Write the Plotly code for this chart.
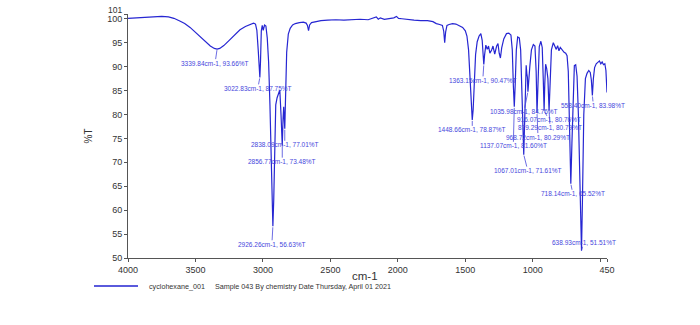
import plotly.graph_objects as go

# ---- spectrum data (wavenumber cm-1, %T) ----
wavenumber = [4000, 3950, 3900, 3850, 3800, 3750, 3700, 3660, 3620, 3580, 3540, 3500, 3460, 3420, 3390,
              3360, 3339.84, 3320, 3290, 3250, 3210, 3170, 3130, 3100, 3070, 3055, 3045, 3035, 3028,
              3022.83, 3018, 3012, 3005, 2998, 2988, 2978, 2968, 2958, 2948, 2938, 2930, 2926.26, 2920,
              2914, 2905, 2895, 2885, 2875, 2866, 2856.77, 2851, 2846, 2838.09, 2832, 2824, 2812, 2798,
              2780, 2760, 2730, 2700, 2680, 2670, 2662, 2654, 2640, 2610, 2570, 2520, 2460, 2400, 2340,
              2280, 2220, 2180, 2160, 2145, 2130, 2100, 2060, 2030, 2010, 1995, 1970, 1930, 1880, 1830,
              1780, 1740, 1715, 1690, 1670, 1660, 1653, 1646, 1636, 1620, 1595, 1570, 1545, 1520, 1500,
              1488, 1476, 1466, 1457, 1448.66, 1442, 1434, 1424, 1412, 1398, 1385, 1375, 1368, 1363.15,
              1357, 1348, 1338, 1328, 1318, 1306, 1295, 1282, 1268, 1258, 1249, 1240, 1230, 1215, 1195,
              1178, 1162, 1152, 1144, 1137.07, 1130, 1122, 1112, 1100, 1090, 1080, 1072, 1067.01, 1061,
              1055, 1049, 1044, 1040, 1035.98, 1030, 1022, 1010, 996, 984, 975, 968.72, 962, 952, 940,
              930, 922, 916.07, 911, 905, 897, 888, 879.29, 872, 862, 848, 836, 826, 816, 806, 796, 782,
              768, 756, 746, 737, 728, 718.14, 710, 701, 692, 682, 672, 662, 652, 645, 638.93, 632, 622,
              610, 598, 585, 574, 566, 558.40, 551, 542, 530, 518, 506, 496, 486, 476, 466, 458, 450]
transmittance = [100.1, 100.2, 100.3, 100.4, 100.4, 100.5, 100.4, 100.1, 99.6, 99.0, 98.2, 97.2, 96.1, 95.0, 94.3,
                 93.8, 93.66, 93.8, 94.4, 95.5, 96.7, 97.7, 98.4, 98.8, 99.1, 98.9, 97.6, 93.5, 89.5,
                 87.75, 91.0, 97.5, 98.6, 97.6, 98.7, 98.5, 96.0, 91.0, 82.0, 68.0, 59.0, 56.63, 62.0,
                 74.0, 82.0, 83.5, 84.3, 85.1, 80.0, 73.48, 79.0, 81.6, 77.01, 84.0, 93.0, 96.8, 98.0,
                 98.7, 99.0, 99.2, 99.3, 99.1, 98.6, 97.5, 98.7, 99.2, 99.4, 99.6, 99.7, 99.8, 99.7, 99.8,
                 99.9, 99.8, 100.1, 100.4, 99.9, 100.2, 99.9, 100.0, 100.2, 100.5, 100.1, 100.0, 99.8, 99.7, 99.6,
                 99.6, 99.4, 99.0, 98.8, 98.6, 97.4, 95.0, 97.2, 98.6, 98.8, 99.0, 98.9, 98.6, 98.2, 97.5,
                 96.4, 93.5, 88.0, 82.0, 78.87, 81.0, 87.0, 92.5, 95.2, 96.4, 96.9, 95.5, 92.5, 90.47,
                 92.5, 94.5, 93.6, 94.3, 92.8, 93.4, 94.3, 92.6, 94.3, 94.8, 92.8, 91.8, 94.0, 95.8, 96.9,
                 97.0, 96.6, 93.5, 86.0, 81.60, 86.5, 93.5, 96.2, 96.0, 93.5, 86.0, 76.5, 71.61, 79.0,
                 88.0, 90.3, 88.5, 87.8, 84.76, 87.5, 90.0, 93.5, 94.6, 94.3, 89.0, 80.29, 87.5, 94.2, 95.3,
                 94.0, 87.0, 80.76, 86.5, 90.5, 89.6, 87.5, 80.79, 87.0, 93.5, 95.0, 94.3, 93.6, 94.4, 93.3, 94.0, 93.4,
                 93.0, 92.8, 92.3, 89.0, 78.0, 65.52, 74.0, 85.0, 90.2, 90.4, 88.0, 80.0, 66.0, 57.0, 51.51, 62.0, 80.0,
                 87.5, 88.6, 89.2, 88.8, 87.2, 83.98, 87.5, 89.8, 90.6, 91.0, 91.2, 90.6, 91.0, 90.4, 90.6, 89.2, 84.6]

# ---- labelled peaks ----
peak_wn = [3339.84, 3022.83, 2926.26, 2856.77, 2838.09, 1448.66, 1363.15, 1137.07,
           1067.01, 1035.98, 968.72, 916.07, 879.29, 718.14, 638.93, 558.40]
peak_T = [93.66, 87.75, 56.63, 73.48, 77.01, 78.87, 90.47, 81.60,
          71.61, 84.76, 80.29, 80.76, 80.79, 65.52, 51.51, 83.98]

# label offsets (pixels) relative to each peak
label_dx = [-2, -2, -1, 0, 0, 0, -1, -1, 4, -4, 1, 5, 1, 2, 2, 1]
label_dy = [14, 11, 18, 16, 16, 10, 16, 39, 16, 20, 24, 9, 17, 10, -8, 10]

x_ticks = [4000, 3500, 3000, 2500, 2000, 1500, 1000, 500, 450]
x_ticktext = ["4000", "3500", "3000", "2500", "2000", "1500", "1000", "", "450"]
y_ticks = [50, 55, 60, 65, 70, 75, 80, 85, 90, 95, 100, 101]
y_ticktext = ["50", "55", "60", "65", "70", "75", "80", "85", "90", "95", "100", ""]

series_name = "cyclohexane_001"
sample_info = "Sample 043 By chemistry Date Thursday, April 01 2021"

FONT = "Liberation Sans, Arial, sans-serif"
CURVE = "#2626d2"
LABEL = "#4646dc"
AXIS = "#555555"

L, R, T_, B = 128, 93, 14, 67
W, H = 700, 325
pw, ph = W - L - R, H - T_ - B


def px_to_paper(px, py):
    return (px - L) / pw, (H - B - py) / ph


fig = go.Figure()
fig.add_trace(go.Scatter(x=wavenumber, y=transmittance, mode="lines",
                         line=dict(color=CURVE, width=1.2), name=series_name,
                         showlegend=False))

annotations = []
for wn, t, dx, dy in zip(peak_wn, peak_T, label_dx, label_dy):
    annotations.append(dict(
        x=wn, y=t, xref="x", yref="y",
        text=f"{wn:.2f}cm-1, {t:.2f}%T",
        showarrow=True, arrowhead=0, arrowwidth=0.8, arrowcolor=LABEL,
        ax=dx, ay=dy, standoff=1, borderpad=0,
        font=dict(family=FONT, size=6.5, color=LABEL)))

# top tick label "101"
annotations.append(dict(x=0, y=101, xref="paper", yref="y", text="101",
                        showarrow=False, xanchor="right", yanchor="middle",
                        xshift=-4, yshift=4.5,
                        font=dict(family=FONT, size=8.5, color="#333333")))

lx, ly = px_to_paper(147, 286)
annotations.append(dict(x=lx, y=ly, xref="paper", yref="paper", text=series_name,
                        showarrow=False, xanchor="left", yanchor="middle",
                        font=dict(family=FONT, size=7.2, color="#333333")))
sx, sy = px_to_paper(213, 286)
annotations.append(dict(x=sx, y=sy, xref="paper", yref="paper", text=sample_info,
                        showarrow=False, xanchor="left", yanchor="middle",
                        font=dict(family=FONT, size=7.2, color="#333333")))
cx, cy = px_to_paper(365, 276)
annotations.append(dict(x=cx, y=cy, xref="paper", yref="paper", text="cm-1",
                        showarrow=False, xanchor="center", yanchor="middle",
                        font=dict(family=FONT, size=11.5, color="#333333")))

x0, _ = px_to_paper(94, 286)
x1, _ = px_to_paper(138, 286)

fig.update_layout(
    width=W, height=H,
    margin=dict(l=L, r=R, t=T_, b=B, pad=0),
    paper_bgcolor="white", plot_bgcolor="white",
    font=dict(family=FONT, color="#333333"),
    annotations=annotations,
    shapes=[dict(type="line", xref="paper", yref="paper", x0=x0, x1=x1, y0=ly, y1=ly,
                 line=dict(color="#5a5adc", width=2))],
    xaxis=dict(range=[4000, 450], autorange=False, showgrid=False, zeroline=False,
               showline=True, linecolor=AXIS, linewidth=1,
               tickmode="array", tickvals=x_ticks, ticktext=x_ticktext,
               ticks="outside", ticklen=3, tickcolor=AXIS,
               tickfont=dict(family=FONT, size=9, color="#333333")),
    yaxis=dict(range=[50, 101], autorange=False, showgrid=False, zeroline=False,
               showline=True, linecolor=AXIS, linewidth=1,
               tickmode="array", tickvals=y_ticks, ticktext=y_ticktext,
               ticks="outside", ticklen=3, tickcolor=AXIS,
               tickfont=dict(family=FONT, size=9, color="#333333"),
               title=dict(text="%T", standoff=12,
                          font=dict(family=FONT, size=10, color="#333333"))),
)

fig.write_html("out.html")
